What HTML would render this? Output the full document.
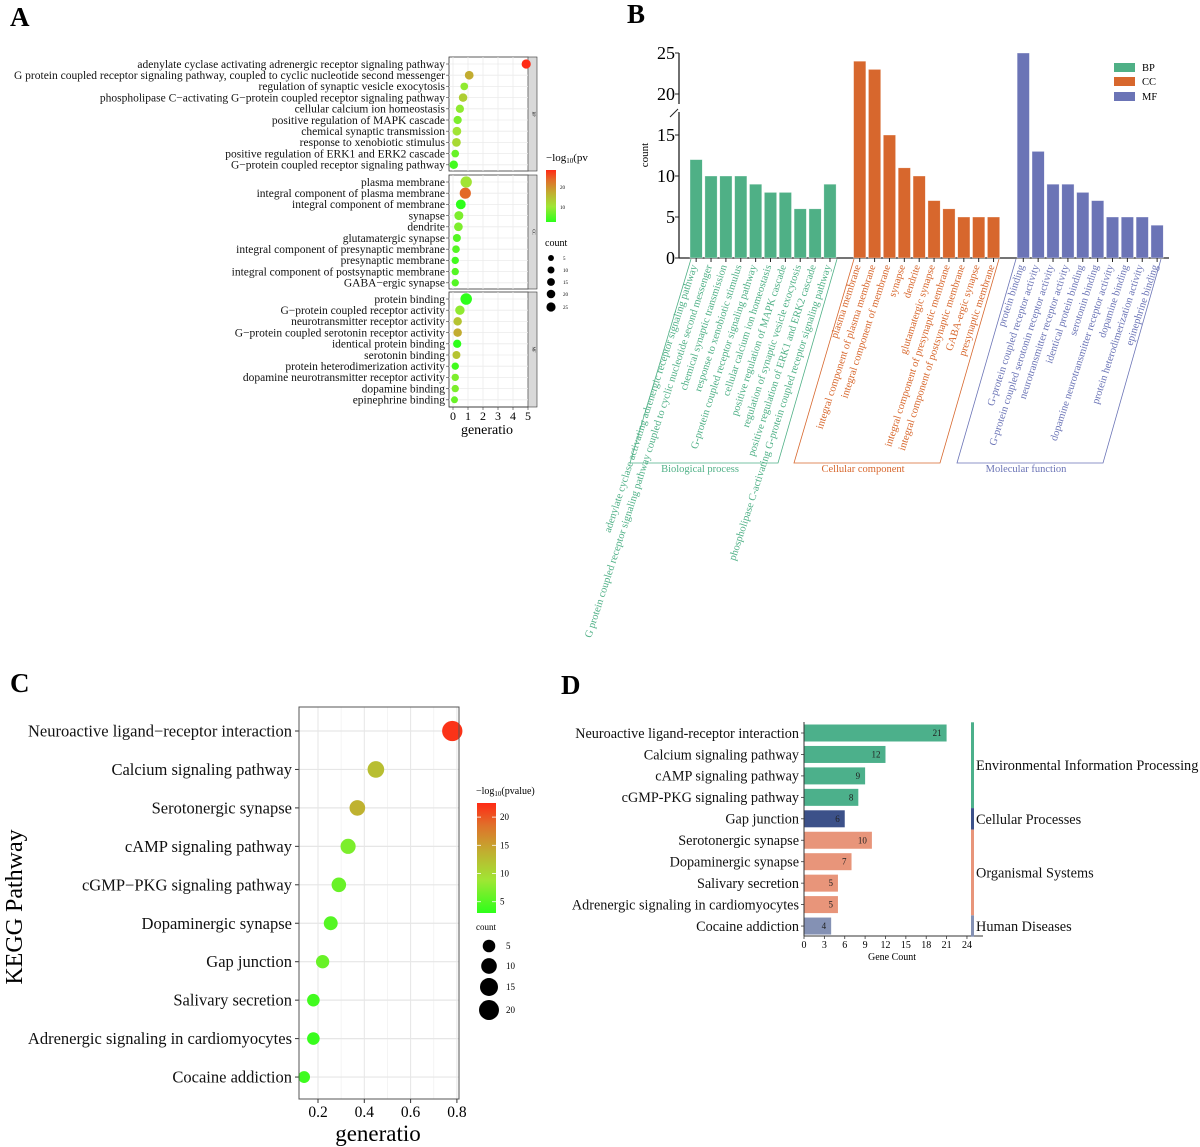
<!DOCTYPE html>
<html><head><meta charset="utf-8">
<style>
html,body{margin:0;padding:0;background:#fff;}
svg{display:block;font-family:"Liberation Serif",serif;}
</style></head>
<body>
<svg id="fig" width="1200" height="1147" viewBox="0 0 1200 1147" xmlns="http://www.w3.org/2000/svg">
<text x="10" y="26" font-size="27" font-weight="bold">A</text>
<text x="627" y="23" font-size="27" font-weight="bold">B</text>
<text x="10" y="692" font-size="27" font-weight="bold">C</text>
<text x="561" y="694" font-size="27" font-weight="bold">D</text>
<g id="gA"></g>
<g id="gB"></g>
<g id="gC"></g>
<g id="gD"></g>
</svg>
<script>
// ---------- Panel A data ----------
const aBPTerms = ["adenylate cyclase activating adrenergic receptor signaling pathway","G protein coupled receptor signaling pathway, coupled to cyclic nucleotide second messenger","regulation of synaptic vesicle exocytosis","phospholipase C\u2212activating G\u2212protein coupled receptor signaling pathway","cellular calcium ion homeostasis","positive regulation of MAPK cascade","chemical synaptic transmission","response to xenobiotic stimulus","positive regulation of ERK1 and ERK2 cascade","G\u2212protein coupled receptor signaling pathway"];
const aBPRatio = [4.88,1.08,0.75,0.67,0.46,0.31,0.26,0.23,0.15,0.05];
const aBPCount = [12,10,6,9,8,8,10,10,6,9];
const aBPLogp = [26,14,8,11,8,7,9,10,6,4];
const aCCTerms = ["plasma membrane","integral component of plasma membrane","integral component of membrane","synapse","dendrite","glutamatergic synapse","integral component of presynaptic membrane","presynaptic membrane","integral component of postsynaptic membrane","GABA\u2212ergic synapse"];
const aCCRatio = [0.88,0.82,0.52,0.39,0.36,0.26,0.2,0.15,0.15,0.15];
const aCCCount = [24,23,15,11,10,7,6,5,5,5];
const aCCLogp = [9,19,3,7,7,5,5,4,5,5];
const aMFTerms = ["protein binding","G\u2212protein coupled receptor activity","neurotransmitter receptor activity","G\u2212protein coupled serotonin receptor activity","identical protein binding","serotonin binding","protein heterodimerization activity","dopamine neurotransmitter receptor activity","dopamine binding","epinephrine binding"];
const aMFRatio = [0.88,0.46,0.31,0.31,0.28,0.23,0.15,0.15,0.15,0.1];
const aMFCount = [25,13,9,9,8,7,5,5,5,4];
const aMFLogp = [3,8,12,14,3,12,4,7,7,6];
const aXTicks = [0,1,2,3,4,5];

// ---------- Panel B data ----------
const bBPTerms = ["adenylate cyclase activating adrenergic receptor signaling pathway","G protein coupled receptor signaling pathway coupled to cyclic nucleotide second messenger","chemical synaptic transmission","response to xenobiotic stimulus","G-protein coupled receptor signaling pathway","cellular calcium ion homeostasis","positive regulation of MAPK cascade","regulation of synaptic vesicle exocytosis","positive regulation of ERK1 and ERK2 cascade","phospholipase C-activating G-protein coupled receptor signaling pathway"];
const bBPCounts = [12,10,10,10,9,8,8,6,6,9];
const bCCTerms = ["plasma membrane","integral component of plasma membrane","integral component of membrane","synapse","dendrite","glutamatergic synapse","integral component of presynaptic membrane","integral component of postsynaptic membrane","GABA-ergic synapse","presynaptic membrane"];
const bCCCounts = [24,23,15,11,10,7,6,5,5,5];
const bMFTerms = ["protein binding","G-protein coupled receptor activity","G-protein coupled serotonin receptor activity","neurotransmitter receptor activity","identical protein binding","serotonin binding","dopamine neurotransmitter receptor activity","dopamine binding","protein heterodimerization activity","epinephrine binding"];
const bMFCounts = [25,13,9,9,8,7,5,5,5,4];
const bYTicks = [0,5,10,15,20,25];

// ---------- Panel C data ----------
const cTerms = ["Neuroactive ligand\u2212receptor interaction","Calcium signaling pathway","Serotonergic synapse","cAMP signaling pathway","cGMP\u2212PKG signaling pathway","Dopaminergic synapse","Gap junction","Salivary secretion","Adrenergic signaling in cardiomyocytes","Cocaine addiction"];
const cRatio = [0.78,0.45,0.37,0.33,0.29,0.255,0.22,0.18,0.18,0.14];
const cCount = [21,12,10,9,8,7,6,5,5,4];
const cLogp = [22,12.5,13.5,7,6,5,6,4,3.5,3.8];
const cXTicks = [0.2,0.4,0.6,0.8];
const cColorTicks = [5,10,15,20];
const cSizeTicks = [5,10,15,20];

// ---------- Panel D data ----------
const dTerms = ["Neuroactive ligand-receptor interaction","Calcium signaling pathway","cAMP signaling pathway","cGMP-PKG signaling pathway","Gap junction","Serotonergic synapse","Dopaminergic synapse","Salivary secretion","Adrenergic signaling in cardiomyocytes","Cocaine addiction"];
const dCounts = [21,12,9,8,6,10,7,5,5,4];
const dClass = [0,0,0,0,1,2,2,2,2,3];
const dClassNames = ["Environmental Information Processing","Cellular Processes","Organismal Systems","Human Diseases"];
const dXTicks = [0,3,6,9,12,15,18,21,24];

const NS="http://www.w3.org/2000/svg";
function mk(parent,tag,attrs,txt){const e=document.createElementNS(NS,tag);for(const k in attrs)e.setAttribute(k,attrs[k]);if(txt!==undefined)e.textContent=txt;parent.appendChild(e);return e;}
function hex(c){return [parseInt(c.slice(1,3),16),parseInt(c.slice(3,5),16),parseInt(c.slice(5,7),16)];}
const stops=[[0,"#2dff1a"],[0.3,"#a0e634"],[0.55,"#c0b030"],[0.8,"#e0702a"],[1,"#ff2a15"]];
function pcol(v){let t=(v-3)/(22.5-3);t=Math.max(0,Math.min(1,t));for(let i=1;i<stops.length;i++){if(t<=stops[i][0]){const a=stops[i-1],b=stops[i];const f=(t-a[0])/(b[0]-a[0]);const A=hex(a[1]),B=hex(b[1]);return "rgb("+A.map((x,j)=>Math.round(x+(B[j]-x)*f)).join(",")+")";}}return stops[4][1];}

// ================= Panel A =================
(function(){
const g=document.getElementById('gA');
const xA=v=>453+v*15;
const rA=c=>2+Math.sqrt(c)*0.75;
const facets=[[aBPTerms,aBPRatio,aBPCount,aBPLogp,57,171,64,"BP"],[aCCTerms,aCCRatio,aCCCount,aCCLogp,175,289,182,"CC"],[aMFTerms,aMFRatio,aMFCount,aMFLogp,292,407,299,"MF"]];
facets.forEach(f=>{
  const [terms,ratio,count,logp,top,bot,y0,nm]=f;
  const p=mk(g,'rect',{x:449,y:top,width:79,height:bot-top,fill:'#fff',stroke:'#333','stroke-width':0.8});
  
  
  aXTicks.forEach(t=>{mk(g,'line',{x1:xA(t),x2:xA(t),y1:top,y2:bot,stroke:'#ebebeb','stroke-width':0.8});});
  const s=mk(g,'rect',{x:528,y:top,width:9,height:bot-top,fill:'#d9d9d9',stroke:'#333','stroke-width':0.6});
  
  
  const st=mk(g,'text',{x:532.5,y:(top+bot)/2,'font-size':4,'text-anchor':'middle',transform:'rotate(90 532.5 '+((top+bot)/2)+')'},nm);
  
  
  terms.forEach((t,i)=>{
    const y=y0+i*11.2;
    mk(g,'line',{x1:449,x2:528,y1:y,y2:y,stroke:'#ebebeb','stroke-width':0.8});
    mk(g,'line',{x1:446,x2:449,y1:y,y2:y,stroke:'#333','stroke-width':0.6});
    const l=mk(g,'text',{x:445,y:y+3.8,'font-size':11.5,'text-anchor':'end',fill:'#111'},t);
    
    
    const c=mk(g,'circle',{cx:xA(ratio[i]),cy:y,r:rA(count[i]),fill:pcol(logp[i])});
    
    
  });
});
mk(g,'line',{x1:449,x2:528,y1:407,y2:407,stroke:'#333','stroke-width':0.8});
aXTicks.forEach(t=>{
  mk(g,'line',{x1:xA(t),x2:xA(t),y1:407,y2:410,stroke:'#333','stroke-width':0.6});
  const tl=mk(g,'text',{x:xA(t),y:420,'font-size':12,'text-anchor':'middle'},t);
  
  
});
const xt=mk(g,'text',{x:487,y:434,'font-size':14,'text-anchor':'middle'},'generatio');


const lt=mk(g,'text',{x:546,y:161,'font-size':11},'');
lt.innerHTML='\u2212log<tspan font-size="7" dy="2">10</tspan><tspan dy="-2">(pv</tspan>';


const dfs=mk(g,'defs',{});
const lg=mk(dfs,'linearGradient',{id:'gradA',x1:0,y1:1,x2:0,y2:0});
[0,0.3,0.55,0.8,1].forEach((o,i)=>mk(lg,'stop',{offset:o,'stop-color':stops[i][1]}));
const cb=mk(g,'rect',{x:546,y:170,width:10,height:52,fill:'url(#gradA)'});


[[10,207],[20,187]].forEach(a=>{mk(g,'text',{x:560,y:a[1]+2,'font-size':5},a[0]);});
const ct=mk(g,'text',{x:545,y:246,'font-size':10},'count');


[5,10,15,20,25].forEach((c,i)=>{
  const y=[258,270,282,294,307][i];
  const d=mk(g,'circle',{cx:551,cy:y,r:rA(c)*0.8,fill:'#000'});
  
  
  mk(g,'text',{x:563,y:y+2,'font-size':5},c);
});
})();

// ================= Panel B =================
(function(){
const g=document.getElementById('gB');
const y0=258, py=8.2;
const yB=v=>y0-v*py;
const pitch=14.87, bw=12.3, start=690;
const xB=idx=>start+idx*pitch;
const groups=[[bBPTerms,bBPCounts,0,'#4fb086','Biological process',630,778,691,837,'bp'],[bCCTerms,bCCCounts,11,'#d7672d','Cellular component',794,940,854,999,'cc'],[bMFTerms,bMFCounts,22,'#6b74b6','Molecular function',957,1103,1016,1161,'mf']];
mk(g,'line',{x1:679,x2:679,y1:yB(25),y2:y0,stroke:'#222','stroke-width':1.3});
mk(g,'line',{x1:679,x2:1169,y1:y0,y2:y0,stroke:'#222','stroke-width':1.3});
mk(g,'rect',{x:672,y:104,width:14,height:8,fill:'#fff'});
mk(g,'line',{x1:670,x2:678,y1:117,y2:109,stroke:'#222','stroke-width':1});
bYTicks.forEach(t=>{
  mk(g,'line',{x1:675,x2:679,y1:yB(t),y2:yB(t),stroke:'#222','stroke-width':1});
  const l=mk(g,'text',{x:675,y:yB(t)+6,'font-size':18,'text-anchor':'end'},t);
  
  
});
const yt=mk(g,'text',{x:648,y:155,'font-size':11,'text-anchor':'middle',transform:'rotate(-90 648 155)'},'count');


groups.forEach(gr=>{
  const [terms,counts,off,col,lab,bl,br,tl,tr,key]=gr;
  counts.forEach((c,i)=>{
    const cx=xB(off+i)+bw/2;
    const r=mk(g,'rect',{x:xB(off+i),y:yB(c),width:bw,height:y0-yB(c),fill:col,stroke:'#fff','stroke-width':0.6,'stroke-opacity':0.6});
    
    
    mk(g,'line',{x1:cx,x2:cx,y1:y0,y2:y0+4,stroke:'#222','stroke-width':1});
    const t=mk(g,'text',{x:cx+1,y:266,'font-size':10.5,'text-anchor':'end',fill:col,transform:'rotate(-72 '+(cx+1)+' 266)'},terms[i]);
    
    
  });
  mk(g,'polyline',{points:tl+','+(y0+1)+' '+bl+',463 '+br+',463 '+tr+','+(y0+1),fill:'none',stroke:col,'stroke-width':0.8});
  const gl=mk(g,'text',{x:(bl+br)/2-4,y:472,'font-size':10.5,'text-anchor':'middle',fill:col},lab);
  
  
});
[['BP','#4fb086',67],['CC','#d7672d',81],['MF','#6b74b6',96]].forEach(a=>{
  const s=mk(g,'rect',{x:1114,y:a[2]-4,width:21,height:9,fill:a[1]});
  
  
  const t=mk(g,'text',{x:1142,y:a[2]+4,'font-size':10.5},a[0]);
  
  
});
})();

// ================= Panel C =================
(function(){
const g=document.getElementById('gC');
const xC=v=>318+(v-0.2)*231.5;
const yC=i=>731+i*38.45;
const rC=c=>2.6+Math.sqrt(c)*1.65;
const L=299,R=459,T=707,B=1099;
mk(g,'rect',{x:L,y:T,width:R-L,height:B-T,fill:'#fff'});
[0.1,0.3,0.5,0.7].forEach(v=>{if(xC(v)>L)mk(g,'line',{x1:xC(v),x2:xC(v),y1:T,y2:B,stroke:'#f2f2f2','stroke-width':0.8});});
cXTicks.forEach(v=>mk(g,'line',{x1:xC(v),x2:xC(v),y1:T,y2:B,stroke:'#e6e6e6','stroke-width':1}));
cTerms.forEach((t,i)=>{
  mk(g,'line',{x1:L,x2:R,y1:yC(i),y2:yC(i),stroke:'#e6e6e6','stroke-width':1.2});
  mk(g,'line',{x1:295,x2:L,y1:yC(i),y2:yC(i),stroke:'#333','stroke-width':1});
  const l=mk(g,'text',{x:292,y:yC(i)+5.5,'font-size':16.5,'text-anchor':'end',fill:'#111'},t);
  
  
});
cTerms.forEach((t,i)=>{
  const c=mk(g,'circle',{cx:xC(cRatio[i]),cy:yC(i),r:rC(cCount[i]),fill:pcol(cLogp[i])});
  
  
});
mk(g,'rect',{x:L,y:T,width:R-L,height:B-T,fill:'none',stroke:'#555','stroke-width':1});
cXTicks.forEach(v=>{
  mk(g,'line',{x1:xC(v),x2:xC(v),y1:B,y2:B+4,stroke:'#333','stroke-width':1});
  const l=mk(g,'text',{x:xC(v),y:1117,'font-size':15.5,'text-anchor':'middle'},v.toFixed(1));
  
  
});
const xt=mk(g,'text',{x:378,y:1141,'font-size':23,'text-anchor':'middle'},'generatio');


const yt=mk(g,'text',{x:22,y:907,'font-size':24,'text-anchor':'middle',transform:'rotate(-90 22 907)'},'KEGG Pathway');


const lt=mk(g,'text',{x:476,y:794,'font-size':10},'');
lt.innerHTML='\u2212log<tspan font-size="7" dy="2">10</tspan><tspan dy="-2">(pvalue)</tspan>';


const dfs=mk(g,'defs',{});
const lg=mk(dfs,'linearGradient',{id:'gradC',x1:0,y1:1,x2:0,y2:0});
[0,0.3,0.55,0.8,1].forEach((o,i)=>mk(lg,'stop',{offset:o,'stop-color':stops[i][1]}));
const cb=mk(g,'rect',{x:477,y:803,width:19,height:110,fill:'url(#gradC)'});


const yCb=v=>913-(v-3)*(110/19.5);
cColorTicks.forEach(v=>{
  mk(g,'line',{x1:477,x2:481,y1:yCb(v),y2:yCb(v),stroke:'#fff','stroke-width':0.8});
  mk(g,'line',{x1:492,x2:496,y1:yCb(v),y2:yCb(v),stroke:'#fff','stroke-width':0.8});
  const l=mk(g,'text',{x:500,y:yCb(v)+3,'font-size':9},v);
  
  
});
const ct=mk(g,'text',{x:476,y:930,'font-size':9},'count');


cSizeTicks.forEach((c,i)=>{
  const y=[946,966,987,1010][i];
  const d=mk(g,'circle',{cx:489,cy:y,r:rC(c),fill:'#000'});
  
  
  mk(g,'text',{x:506,y:y+3,'font-size':9},c);
});
})();

// ================= Panel D =================
(function(){
const g=document.getElementById('gD');
const xD=v=>804+v*6.79;
const yD=i=>733+i*21.45;
const cols=['#4cb08b','#3c5189','#e8957a','#8491b4'];
dTerms.forEach((t,i)=>{
  const r=mk(g,'rect',{x:xD(0),y:yD(i)-8.5,width:xD(dCounts[i])-xD(0),height:17,fill:cols[dClass[i]]});
  
  
  const v=mk(g,'text',{x:xD(dCounts[i])-5,y:yD(i)+3,'font-size':9,'text-anchor':'end',fill:'#222'},dCounts[i]);
  
  
  mk(g,'line',{x1:801,x2:804,y1:yD(i),y2:yD(i),stroke:'#333','stroke-width':0.8});
  const l=mk(g,'text',{x:799,y:yD(i)+4.8,'font-size':14.2,'text-anchor':'end',fill:'#111'},t);
  
  
});
mk(g,'line',{x1:804,x2:804,y1:722,y2:936,stroke:'#333','stroke-width':1});
mk(g,'line',{x1:804,x2:983,y1:936,y2:936,stroke:'#333','stroke-width':1});
dXTicks.forEach(v=>{
  mk(g,'line',{x1:xD(v),x2:xD(v),y1:936,y2:939,stroke:'#333','stroke-width':0.8});
  const l=mk(g,'text',{x:xD(v),y:948,'font-size':10,'text-anchor':'middle'},v);
  
  
});
const xt=mk(g,'text',{x:892,y:960,'font-size':10,'text-anchor':'middle'},'Gene Count');


dClassNames.forEach((n,k)=>{
  const idx=dClass.map((c,i)=>c===k?i:-1).filter(i=>i>=0);
  const y1=yD(idx[0])-10.7, y2=yD(idx[idx.length-1])+10.7;
  const s=mk(g,'rect',{x:971,y:y1,width:3,height:y2-y1,fill:cols[k]});
  
  
  const t=mk(g,'text',{x:976,y:(y1+y2)/2+5,'font-size':14.3,fill:'#111'},n);
  
  
});
})();
</script>
</body></html>
